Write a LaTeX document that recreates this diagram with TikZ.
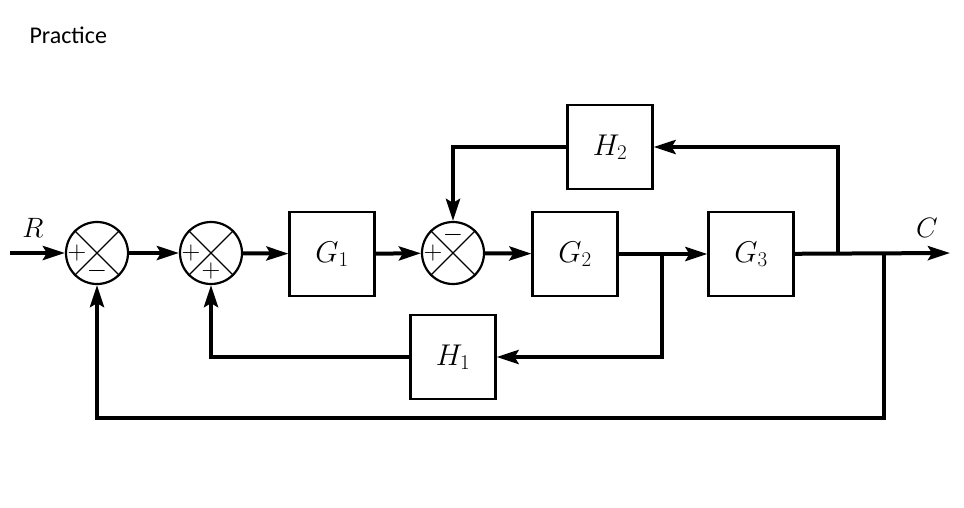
\RequirePackage{fix-cm}
\documentclass[tikz,border=0pt]{standalone}
\usepackage{fontspec}
\newfontfamily\carlito{Carlito}
\usetikzlibrary{arrows.meta, positioning}

\begin{document}
\begin{tikzpicture}[
    x=1pt, y=-1pt,
    block/.style={draw, line width=2.2pt, minimum width=85pt, minimum height=84pt, font=\fontsize{30}{30}\selectfont},
    sum/.style={draw, circle, line width=2.2pt, minimum size=62pt, inner sep=0pt},
    sig/.style={line width=4pt, -{Stealth[length=22pt, width=14pt, inset=4pt]}},
    sign/.style={font=\fontsize{26}{26}\selectfont, inner sep=0pt}
]
   \useasboundingbox (0,0) rectangle (964,507);
   \node[font=\carlito\fontsize{24}{24}\selectfont, anchor=west] (title) at (26,35) {Practice};

   % Blocks
   \node[sum] (s1) at (97,253) {};
   \node[sum] (s2) at (211,253) {};
   \node[block] (g1) at (332,254) {$G_1$};
   \node[sum] (s3) at (453,253) {};
   \node[block] (g2) at (575,254) {$G_2$};
   \node[block] (g3) at (751,254) {$G_3$};
   \node[block] (h2) at (610,147) {$H_2$};
   \node[block] (h1) at (453,357) {$H_1$};

   % Crosses and signs
   \foreach \s in {s1,s2,s3} {
      \draw[line width=1.2pt] (\s.north west) -- (\s.south east) (\s.north east) -- (\s.south west);
   }
   \node[sign] at ([xshift=-20pt]s1.center) {$+$};
   \node[sign] at ([yshift=-18pt]s1.center) {$-$};
   \node[sign] at ([xshift=-20pt]s2.center) {$+$};
   \node[sign] at ([yshift=-18pt]s2.center) {$+$};
   \node[sign] at ([xshift=-20pt]s3.center) {$+$};
   \node[sign] at ([yshift=18pt]s3.center) {$-$};

   % Points
   \coordinate (in) at (10,253);
   \coordinate (out) at (950,253);
   \coordinate (b1) at (662,253);
   \coordinate (b2) at (838,253);
   \coordinate (b3) at (884,253);
   \node[font=\fontsize{28}{28}\selectfont] (rl) at (33,228) {$R$};
   \node[font=\fontsize{28}{28}\selectfont] (cl) at (927,228) {$C$};

   % Forward path
   \draw[sig] (in) -- (s1);
   \draw[sig] (s1) -- (s2);
   \draw[sig] (s2) -- (g1);
   \draw[sig] (g1) -- (s3);
   \draw[sig] (s3) -- (g2);
   \draw[sig] (g2) -- (g3);
   \draw[sig] (g3) -- (out);

   % Feedback paths
   \draw[sig] (b2) |- (h2);
   \draw[sig] (h2) -| (s3);
   \draw[sig] (b1) |- (h1);
   \draw[sig] (h1) -| (s2);
   \draw[sig] (b3) |- (97,418) -- (s1);
\end{tikzpicture}
\end{document}
